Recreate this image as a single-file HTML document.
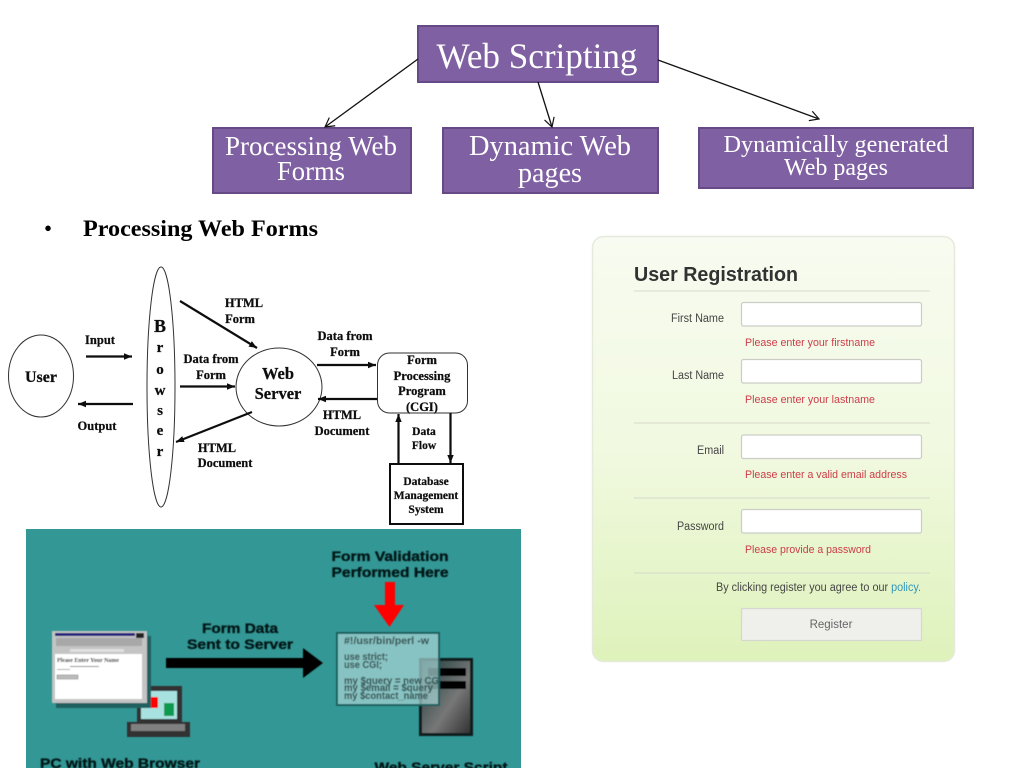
<!DOCTYPE html>
<html><head><meta charset="utf-8"><style>
html,body{margin:0;padding:0;background:#fff;width:1024px;height:768px;overflow:hidden}
svg{display:block}
.s{font-family:"Liberation Serif",serif}
.a{font-family:"Liberation Sans",sans-serif}
.d{font-family:"Liberation Serif",serif;font-weight:bold;font-size:12.5px;fill:#111;stroke:#111;stroke-width:.25px;text-anchor:middle}
.t{font-family:"Liberation Sans",sans-serif;font-weight:bold;fill:#001818;stroke:#001818;stroke-width:.35px;text-anchor:middle}
.c{font-family:"Liberation Sans",sans-serif;font-weight:bold;font-size:10px;fill:#3a5c5c;stroke:#3a5c5c;stroke-width:.2px}
.l{font-family:"Liberation Sans",sans-serif;font-size:11.5px;fill:#444;text-anchor:end}
.e{font-family:"Liberation Sans",sans-serif;font-size:11px;fill:#cc3d48}
</style></head><body>
<svg width="1024" height="768" viewBox="0 0 1024 768" xmlns="http://www.w3.org/2000/svg">
<defs>
<filter id="b" x="-5%" y="-5%" width="110%" height="110%"><feGaussianBlur stdDeviation="0.35"/></filter>
<filter id="b2" x="-5%" y="-5%" width="110%" height="110%"><feGaussianBlur stdDeviation="0.6"/></filter>
<linearGradient id="card" x1="0" y1="0" x2="0" y2="1">
<stop offset="0" stop-color="#f8fbf1"/><stop offset=".5" stop-color="#f1f9e0"/><stop offset="1" stop-color="#deF2bb"/>
</linearGradient>
<linearGradient id="srv" x1="0" y1="0" x2="1" y2="1">
<stop offset="0" stop-color="#1c3a3a"/><stop offset=".6" stop-color="#777"/><stop offset="1" stop-color="#333"/>
</linearGradient>
<marker id="o" markerWidth="12" markerHeight="12" refX="10" refY="6" orient="auto" markerUnits="userSpaceOnUse"><path d="M1 1 L10 6 L1 11" fill="none" stroke="#111" stroke-width="1.2"/></marker>
<marker id="h" markerWidth="10" markerHeight="8" refX="8" refY="4" orient="auto" markerUnits="userSpaceOnUse"><path d="M0 0.8 L8 4 L0 7.2 Z" fill="#111"/></marker>
</defs>

<!-- top chart -->
<g fill="#7f60a2" stroke="#654a86" stroke-width="2">
<rect x="418" y="26" width="240" height="56"/>
<rect x="213" y="128" width="198" height="65"/>
<rect x="443" y="128" width="215" height="65"/>
<rect x="699" y="128" width="274" height="60"/>
</g>
<g stroke="#111" stroke-width="1.3" fill="none">
<line x1="418" y1="59" x2="325" y2="127" marker-end="url(#o)"/>
<line x1="538" y1="82" x2="552" y2="127" marker-end="url(#o)"/>
<line x1="658" y1="60" x2="819" y2="119" marker-end="url(#o)"/>
</g>
<g class="s" fill="#fff" text-anchor="middle">
<text x="537" y="68" font-size="36" textLength="201" lengthAdjust="spacingAndGlyphs">Web Scripting</text>
<text x="311" y="155" font-size="27" textLength="172" lengthAdjust="spacingAndGlyphs">Processing Web</text>
<text x="311" y="180" font-size="27" textLength="68" lengthAdjust="spacingAndGlyphs">Forms</text>
<text x="550" y="155" font-size="29" textLength="162" lengthAdjust="spacingAndGlyphs">Dynamic Web</text>
<text x="550" y="182" font-size="29" textLength="64" lengthAdjust="spacingAndGlyphs">pages</text>
<text x="836" y="152" font-size="24" textLength="225" lengthAdjust="spacingAndGlyphs">Dynamically generated</text>
<text x="836" y="175" font-size="24" textLength="104" lengthAdjust="spacingAndGlyphs">Web pages</text>
</g>

<text x="44" y="236" class="s" font-size="23" fill="#000">•</text>
<text x="83" y="236" class="s" font-size="23" font-weight="bold" fill="#000" textLength="235" lengthAdjust="spacingAndGlyphs">Processing Web Forms</text>

<!-- flow diagram -->
<g filter="url(#b)">
<g fill="#fff" stroke="#333" stroke-width="1">
<ellipse cx="41" cy="376" rx="32.5" ry="41"/>
<ellipse cx="161" cy="387" rx="14" ry="120"/>
<ellipse cx="279" cy="387" rx="43" ry="39"/>
<rect x="377.500" y="353" width="90" height="60" rx="12" ry="12"/>
</g>
<rect x="390" y="464" width="73" height="60" fill="#fff" stroke="#111" stroke-width="2"/>
<g stroke="#111" stroke-width="2.2" fill="none">
<line x1="86" y1="356.500" x2="132" y2="356.500" marker-end="url(#h)"/>
<line x1="133" y1="404" x2="78" y2="404" marker-end="url(#h)"/>
<line x1="180" y1="301" x2="257" y2="348" marker-end="url(#h)"/>
<line x1="180" y1="386.500" x2="235" y2="386.500" marker-end="url(#h)"/>
<line x1="252" y1="412" x2="176" y2="442" marker-end="url(#h)"/>
<line x1="317" y1="365" x2="376" y2="365" marker-end="url(#h)"/>
<line x1="377" y1="399" x2="318" y2="399" marker-end="url(#h)"/>
<line x1="398.500" y1="463" x2="398.500" y2="414" marker-end="url(#h)"/>
<line x1="450.500" y1="413" x2="450.500" y2="463" marker-end="url(#h)"/>
</g>
<text x="41" y="382" class="d" style="font-size:16px">User</text>
<text x="100" y="344" class="d">Input</text>
<text x="97" y="430" class="d">Output</text>
<text x="160" y="332" class="d" style="font-size:18px">B</text>
<text x="160" y="352" class="d" style="font-size:15px">r</text>
<text x="160" y="374" class="d" style="font-size:15px">o</text>
<text x="160" y="395" class="d" style="font-size:15px">w</text>
<text x="160" y="415" class="d" style="font-size:15px">s</text>
<text x="160" y="435" class="d" style="font-size:15px">e</text>
<text x="160" y="456" class="d" style="font-size:15px">r</text>
<text x="244" y="307" class="d">HTML</text>
<text x="240" y="323" class="d">Form</text>
<text x="211" y="363" class="d">Data from</text>
<text x="211" y="379" class="d">Form</text>
<text x="278" y="379" class="d" style="font-size:16.500px">Web</text>
<text x="278" y="399" class="d" style="font-size:16.500px">Server</text>
<text x="217" y="452" class="d">HTML</text>
<text x="225" y="467" class="d">Document</text>
<text x="345" y="340" class="d">Data from</text>
<text x="345" y="356" class="d">Form</text>
<text x="422" y="364" class="d">Form</text>
<text x="422" y="380" class="d">Processing</text>
<text x="422" y="395" class="d">Program</text>
<text x="422" y="411" class="d">(CGI)</text>
<text x="342" y="419" class="d">HTML</text>
<text x="342" y="435" class="d">Document</text>
<text x="424" y="435" class="d" style="font-size:11.500px">Data</text>
<text x="424" y="449" class="d" style="font-size:11.500px">Flow</text>
<text x="426" y="485" class="d" style="font-size:11.500px">Database</text>
<text x="426" y="499" class="d" style="font-size:11.500px">Management</text>
<text x="426" y="513" class="d" style="font-size:11.500px">System</text>
</g>

<!-- teal image -->
<rect x="26" y="529" width="495" height="239" fill="#339795"/>
<g filter="url(#b2)">
<text x="390" y="561" class="t" font-size="14" textLength="117" lengthAdjust="spacingAndGlyphs">Form Validation</text>
<text x="390" y="577" class="t" font-size="14" textLength="117" lengthAdjust="spacingAndGlyphs">Performed Here</text>
<text x="240" y="633" class="t" font-size="14" textLength="76" lengthAdjust="spacingAndGlyphs">Form Data</text>
<text x="240" y="649" class="t" font-size="14" textLength="106" lengthAdjust="spacingAndGlyphs">Sent to Server</text>
<text x="120" y="768" class="t" font-size="14" textLength="160" lengthAdjust="spacingAndGlyphs">PC with Web Browser</text>
<text x="441" y="772" class="t" font-size="14" textLength="133" lengthAdjust="spacingAndGlyphs">Web Server Script</text>
<path d="M385 582 H395 V605 H404 L389.500 627 L374 605 H385 Z" fill="#f00"/>
<path d="M166 658 H303 V648 L323 663 L303 678 V668 H166 Z" fill="#000"/>

<!-- laptop -->
<rect x="137" y="686" width="45" height="36" fill="#333"/>
<rect x="141" y="691" width="36" height="28" fill="#a8e2e0"/>
<rect x="143" y="697" width="15" height="11" fill="#f00"/>
<rect x="164" y="703" width="10" height="13" fill="#0c9a50"/>
<rect x="127" y="722" width="63" height="15" fill="#333"/>
<rect x="131" y="724" width="54" height="7" fill="#808080"/>
<!-- browser window -->
<rect x="56" y="636" width="95" height="72" fill="#205f5f"/>
<rect x="52" y="631" width="95" height="72" fill="#c4c4c4"/>
<rect x="55" y="633" width="80" height="3" fill="#22227a"/>
<rect x="136" y="633" width="8" height="5" fill="#222"/>
<rect x="56" y="638" width="86" height="8" fill="#a8a8a8"/>
<rect x="70" y="649" width="54" height="3" fill="#e0e0e0"/>
<rect x="55" y="654" width="87" height="45" fill="#fff"/>
<text x="57" y="662" font-family="Liberation Serif,serif" font-size="6.500" font-weight="bold" fill="#111" textLength="62" lengthAdjust="spacingAndGlyphs">Please Enter Your Name</text>
<rect x="70" y="666" width="29" height="1" fill="#888"/>
<rect x="57" y="669" width="13" height="1" fill="#aaa"/>
<rect x="57" y="675" width="21" height="4" fill="#bbb" stroke="#777" stroke-width=".5"/>

<!-- server -->
<rect x="419" y="658" width="54" height="78" fill="#0d1a1a"/>
<rect x="422" y="661" width="48" height="72" fill="url(#srv)"/>
<rect x="428" y="668" width="38" height="8" fill="#000"/>
<rect x="428" y="681" width="38" height="8" fill="#000"/>
<!-- code panel -->
<rect x="337" y="633" width="102" height="72" fill="#a8d4d4" fill-opacity=".72" stroke="#15605f" stroke-width="2"/>
<text x="344" y="644" class="c" textLength="85" lengthAdjust="spacingAndGlyphs">#!/usr/bin/perl -w</text>
<text x="344" y="660" class="c" textLength="44" lengthAdjust="spacingAndGlyphs">use strict;</text>
<text x="344" y="668" class="c" textLength="38" lengthAdjust="spacingAndGlyphs">use CGI;</text>
<text x="344" y="684" class="c" textLength="95" lengthAdjust="spacingAndGlyphs">my $query = new CG</text>
<text x="344" y="691" class="c" textLength="89" lengthAdjust="spacingAndGlyphs">my $email = $query</text>
<text x="344" y="699" class="c" textLength="84" lengthAdjust="spacingAndGlyphs">my $contact_name</text>
</g>

<!-- registration card -->
<g filter="url(#b)">
<rect x="592.500" y="236.500" width="362" height="425" rx="11" ry="11" fill="url(#card)" stroke="#e6eadd" stroke-width="1.500"/>
<text x="634" y="281" class="a" font-size="20" font-weight="bold" fill="#333" textLength="164" lengthAdjust="spacingAndGlyphs">User Registration</text>
<g stroke="#d6d9ca" stroke-width="1">
<line x1="634" y1="291" x2="930" y2="291"/>
<line x1="634" y1="423" x2="930" y2="423"/>
<line x1="634" y1="498" x2="930" y2="498"/>
<line x1="634" y1="573" x2="930" y2="573"/>
</g>
<g fill="#fff" stroke="#c9cdc5" stroke-width="1.200">
<rect x="741.500" y="302.500" width="180" height="23.500" rx="2"/>
<rect x="741.500" y="359.500" width="180" height="23.500" rx="2"/>
<rect x="741.500" y="435" width="180" height="23.500" rx="2"/>
<rect x="741.500" y="509.500" width="180" height="23.500" rx="2"/>
</g>
<text x="724" y="322" class="l" textLength="53" lengthAdjust="spacingAndGlyphs">First Name</text>
<text x="724" y="379" class="l" textLength="52" lengthAdjust="spacingAndGlyphs">Last Name</text>
<text x="724" y="454" class="l" textLength="27" lengthAdjust="spacingAndGlyphs">Email</text>
<text x="724" y="530" class="l" textLength="47" lengthAdjust="spacingAndGlyphs">Password</text>
<text x="745" y="346" class="e" textLength="130" lengthAdjust="spacingAndGlyphs">Please enter your firstname</text>
<text x="745" y="403" class="e" textLength="130" lengthAdjust="spacingAndGlyphs">Please enter your lastname</text>
<text x="745" y="478" class="e" textLength="162" lengthAdjust="spacingAndGlyphs">Please enter a valid email address</text>
<text x="745" y="553" class="e" textLength="126" lengthAdjust="spacingAndGlyphs">Please provide a password</text>
<text x="716" y="591" class="a" font-size="11.500" fill="#444" textLength="205" lengthAdjust="spacingAndGlyphs">By clicking register you agree to our <tspan fill="#2f97ba">policy.</tspan></text>
<rect x="741.500" y="608.500" width="180" height="32" rx="1" fill="#efefec" stroke="#d5d8cf" stroke-width="1.200"/>
<text x="831" y="628" class="a" font-size="11.500" fill="#666" text-anchor="middle">Register</text>
</g>
</svg>
</body></html>
